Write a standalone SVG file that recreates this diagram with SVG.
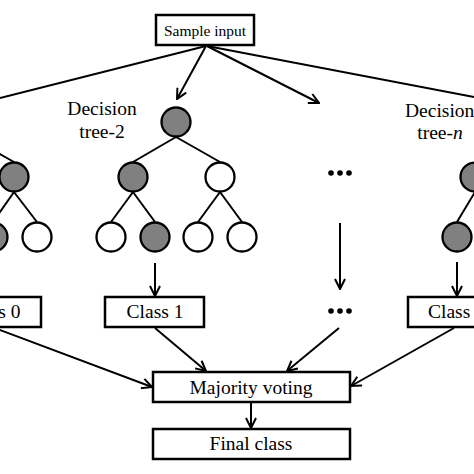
<svg xmlns="http://www.w3.org/2000/svg" width="474" height="474" viewBox="0 0 474 474">
<style>
.box{fill:#fff;stroke:#000;stroke-width:2.5}
.t{font-family:"Liberation Serif","Times New Roman",serif;fill:#000}
.edge{stroke:#000;stroke-width:2;fill:none}
.arr{stroke:#000;stroke-width:2;fill:none;marker-end:url(#ah)}
.g{fill:#808080;stroke:#000;stroke-width:2.3}
.w{fill:#fff;stroke:#000;stroke-width:2.3}
</style>
<defs>
<marker id="ah" viewBox="0 0 12 12" refX="11" refY="6" markerWidth="12" markerHeight="12" markerUnits="userSpaceOnUse" orient="auto">
<path d="M1,1 L11,6 L1,11" fill="none" stroke="#000" stroke-width="2"/>
</marker>
</defs>
<rect width="474" height="474" fill="#fff"/>
<g id="connectors">
<line class="edge" x1="206" y1="46" x2="0" y2="98"/>
<line class="arr" x1="206" y1="46" x2="177" y2="99"/>
<line class="arr" x1="207" y1="46" x2="319" y2="103"/>
<line class="edge" x1="207" y1="46" x2="474" y2="97"/>
<line class="arr" x1="340" y1="223" x2="340" y2="289"/>
<line class="arr" x1="155" y1="263" x2="155" y2="296"/>
<line class="arr" x1="457" y1="262" x2="457" y2="296"/>
<line class="arr" x1="-8" y1="327" x2="152" y2="387"/>
<line class="arr" x1="155" y1="328" x2="206" y2="371"/>
<line class="arr" x1="339" y1="328" x2="287" y2="371"/>
<line class="arr" x1="454" y1="328" x2="351" y2="386"/>
<line class="arr" x1="251" y1="402" x2="251" y2="428"/>
</g>
<g id="sample-input">
<rect class="box" x="156" y="15" width="98" height="30"/>
<text class="t" x="205" y="36" font-size="15.5" text-anchor="middle">Sample input</text>
</g>
<g id="tree-1">
<line class="edge" x1="-30" y1="137" x2="14" y2="162"/>
<line class="edge" x1="14" y1="192" x2="-7" y2="222"/>
<line class="edge" x1="14" y1="192" x2="37" y2="222"/>
<circle class="g" cx="14" cy="177" r="14.5"/>
<circle class="g" cx="-7" cy="237" r="14.5"/>
<circle class="w" cx="37" cy="237" r="14.5"/>
</g>
<g id="tree-2">
<text class="t" x="102" y="115" font-size="19.5" text-anchor="middle">Decision</text>
<text class="t" x="102" y="138" font-size="19.5" text-anchor="middle">tree-2</text>
<line class="edge" x1="176" y1="137" x2="133" y2="162"/>
<line class="edge" x1="176" y1="137" x2="220" y2="162"/>
<line class="edge" x1="133" y1="192" x2="111" y2="222"/>
<line class="edge" x1="133" y1="192" x2="155" y2="222"/>
<line class="edge" x1="220" y1="192" x2="198" y2="222"/>
<line class="edge" x1="220" y1="192" x2="242" y2="222"/>
<circle class="g" cx="176" cy="122" r="14.5"/>
<circle class="g" cx="133" cy="177" r="14.5"/>
<circle class="w" cx="220" cy="177" r="14.5"/>
<circle class="w" cx="111" cy="237" r="14.5"/>
<circle class="g" cx="155" cy="237" r="14.5"/>
<circle class="w" cx="198" cy="237" r="14.5"/>
<circle class="w" cx="242" cy="237" r="14.5"/>
</g>
<g id="tree-dots">
<circle cx="331" cy="173" r="2.8" fill="#000"/>
<circle cx="340" cy="173" r="2.8" fill="#000"/>
<circle cx="349" cy="173" r="2.8" fill="#000"/>
</g>
<g id="tree-n">
<text class="t" x="405" y="117" font-size="19.5">Decision</text>
<text class="t" x="440" y="139" font-size="19.5" text-anchor="middle">tree-<tspan font-style="italic">n</tspan></text>
<line class="edge" x1="519" y1="137" x2="475" y2="162"/>
<line class="edge" x1="475" y1="192" x2="457" y2="222"/>
<circle class="g" cx="475" cy="177" r="14.5"/>
<circle class="g" cx="457" cy="237" r="14.5"/>
</g>
<g id="class-0">
<rect class="box" x="-58" y="297" width="99" height="30"/>
<text class="t" x="-8" y="318" font-size="19.5" text-anchor="middle">Class 0</text>
</g>
<g id="class-1">
<rect class="box" x="105" y="297" width="99" height="30"/>
<text class="t" x="155" y="318" font-size="19.5" text-anchor="middle">Class 1</text>
</g>
<g id="class-dots">
<circle cx="331" cy="311" r="2.8" fill="#000"/>
<circle cx="340" cy="311" r="2.8" fill="#000"/>
<circle cx="349" cy="311" r="2.8" fill="#000"/>
</g>
<g id="class-n">
<rect class="box" x="408" y="297" width="99" height="30"/>
<text class="t" x="428" y="318" font-size="19.5">Class</text>
</g>
<g id="majority-voting">
<rect class="box" x="153" y="372" width="197" height="30"/>
<text class="t" x="251" y="394" font-size="19.5" text-anchor="middle">Majority voting</text>
</g>
<g id="final-class">
<rect class="box" x="153" y="429" width="197" height="30"/>
<text class="t" x="251" y="450" font-size="19.5" text-anchor="middle">Final class</text>
</g>
</svg>
